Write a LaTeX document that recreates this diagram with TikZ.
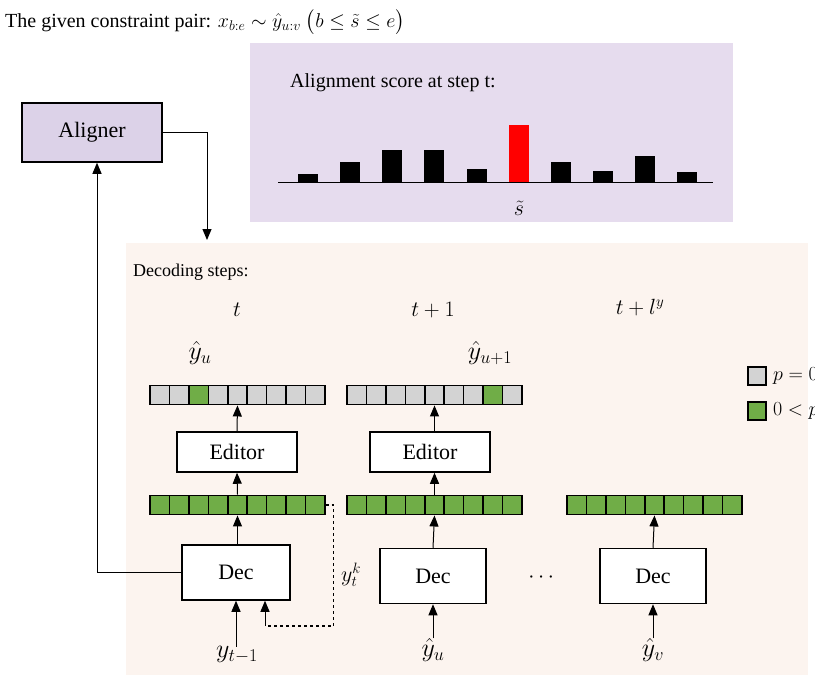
\documentclass[tikz,border=0pt]{standalone}
\usepackage{amsmath}
\usepackage{fix-cm}
\usepackage{fontspec}
\setmainfont{Liberation Serif}
\DeclareMathSizes{20}{20}{14}{10}
\DeclareMathSizes{22}{22}{15}{11}
\DeclareMathSizes{26}{26}{18}{13}
\usetikzlibrary{positioning, arrows.meta}
\definecolor{lavender}{HTML}{E6DCEE}
\definecolor{alignfill}{HTML}{DCD2E8}
\definecolor{peach}{HTML}{FCF4EF}
\definecolor{cellgray}{HTML}{D3D3D3}
\definecolor{cellgreen}{HTML}{70AD47}
\tikzstyle{block} = [rectangle, thick, draw=black, fill=white, line width=1.5pt, font=\fontsize{22}{26}\selectfont]
\tikzstyle{cell} = [rectangle, draw=black, line width=1.5pt, minimum size=19.4pt, inner sep=0pt]
\tikzstyle{arrow} = [line width=1pt, -{Triangle[width=9pt,length=11pt]}]
\tikzstyle{lbl} = [font=\fontsize{22}{26}\selectfont, inner sep=0pt]
\tikzstyle{bar} = [fill=black]
\begin{document}
\begin{tikzpicture}[x=1pt, y=-1pt]
    \useasboundingbox (0,0) rectangle (815,675);
    % backgrounds
    \fill[lavender] (250,43) rectangle (733,222);
    \fill[peach] (126,243) rectangle (808,675);
    \node (title) [anchor=base west, inner sep=0pt, font=\fontsize{20}{24}\selectfont] at (5,27)
      {The given constraint pair: $x_{b:e}\sim\hat{y}_{u:v}\ \bigl(b\leq\tilde{s}\leq e\bigr)$};
    % alignment score
    \node (score) [anchor=base west, inner sep=0pt, font=\fontsize{20}{24}\selectfont] at (290,87) {Alignment score at step t:};
    \foreach \x/\h in {308/8, 350/20, 392/32, 434/32, 477/13, 561/20, 603/11, 645/26, 687/10}
      \fill[bar] (\x-10,182) rectangle (\x+10,182-\h);
    \fill[red] (509,182) rectangle (529,125);
    \draw[line width=1pt] (278,182) -- (713,182);
    \node (stilde) [lbl] at (519,208) {$\tilde{s}$};
    % aligner
    \node (aligner) [block, fill=alignfill, minimum width=140pt, minimum height=59pt] at (92,132.5) {Aligner};
    \node (steps) [anchor=base west, inner sep=0pt, font=\fontsize{18}{22}\selectfont] at (133,276) {Decoding steps:};
    \node (t0) [lbl] at (237,310) {$t$};
    \node (t1) [lbl] at (433,310) {$t+1$};
    \node (t2) [lbl] at (640,308) {$t+l^y$};
    \node (yu) [lbl, font=\fontsize{26}{30}\selectfont] at (200,353) {$\hat{y}_u$};
    \node (yu1) [lbl, font=\fontsize{26}{30}\selectfont] at (490,353) {$\hat{y}_{u+1}$};
    % vectors
    \foreach \i in {1,...,9} {
      \node (oa\i) [cell, fill=cellgray] at (140.3+\i*19.44,395) {};
      \node (ob\i) [cell, fill=cellgray] at (337.3+\i*19.44,395) {};
      \node (ha\i) [cell, fill=cellgreen] at (140.3+\i*19.44,505) {};
      \node (hb\i) [cell, fill=cellgreen] at (337.3+\i*19.44,505) {};
      \node (hc\i) [cell, fill=cellgreen] at (557.3+\i*19.44,505) {};
    }
    \node[cell, fill=cellgreen] at (oa3) {};
    \node[cell, fill=cellgreen] at (ob8) {};
    % blocks
    \node (edita) [block, minimum width=120pt, minimum height=40pt] at (237,452) {Editor};
    \node (editb) [block, minimum width=120pt, minimum height=40pt] at (430,452) {Editor};
    \node (deca) [block, minimum width=108pt, minimum height=55pt] at (236,572.5) {Dec};
    \node (decb) [block, minimum width=106pt, minimum height=55pt] at (433,576) {Dec};
    \node (decc) [block, minimum width=106pt, minimum height=55pt] at (653,576) {Dec};
    \node (dots) [lbl] at (543,578) {$\cdots$};
    % inputs
    \node (ytm) [lbl, font=\fontsize{26}{30}\selectfont] at (237,655) {$y_{t-1}$};
    \node (yhu) [lbl, font=\fontsize{26}{30}\selectfont] at (433,650) {$\hat{y}_u$};
    \node (yhv) [lbl, font=\fontsize{26}{30}\selectfont] at (653,650) {$\hat{y}_v$};
    \coordinate (fb) at (265,626);
    % connectors
    \draw [arrow] (deca.north -| ha5) -- (ha5.south);
    \draw [arrow] (ha5.north) -- (edita.south);
    \draw [arrow] (edita.north) -- (oa5.south);
    \draw [arrow] (decb.north) -- (hb5.south);
    \draw [arrow] (hb5.north) -- (editb.south -| hb5);
    \draw [arrow] (editb.north -| hb5) -- (ob5.south);
    \draw [arrow] (decc.north) -- (hc5.south);
    \draw [arrow] (ytm.north -| deca) -- (deca.south);
    \draw [arrow] (fb) -- (fb |- deca.south);
    \draw [arrow] (yhu.north) -- (decb.south);
    \draw [arrow] (yhv.north) -- (decc.south);
    \draw [line width=1.5pt, dashed] (ha9.east) -- ++(8,0) |- (fb);
    \node (ytk) [lbl] at (351,575) {$y_t^k$};
    \draw [arrow] (deca.west) -| (aligner.south -| 97,0);
    \draw [arrow] (aligner.east) -| (207,240);
    % legend
    \node (lg) [cell, fill=cellgray, minimum size=18pt] at (757,376) {};
    \node (lgt) [lbl, anchor=west, font=\fontsize{20}{24}\selectfont] at (773,376) {$p=0$};
    \node (lr) [cell, fill=cellgreen, minimum size=18pt] at (757,411) {};
    \node (lrt) [lbl, anchor=west, font=\fontsize{20}{24}\selectfont] at (773,411) {$0<p<1$};
\end{tikzpicture}
\end{document}
